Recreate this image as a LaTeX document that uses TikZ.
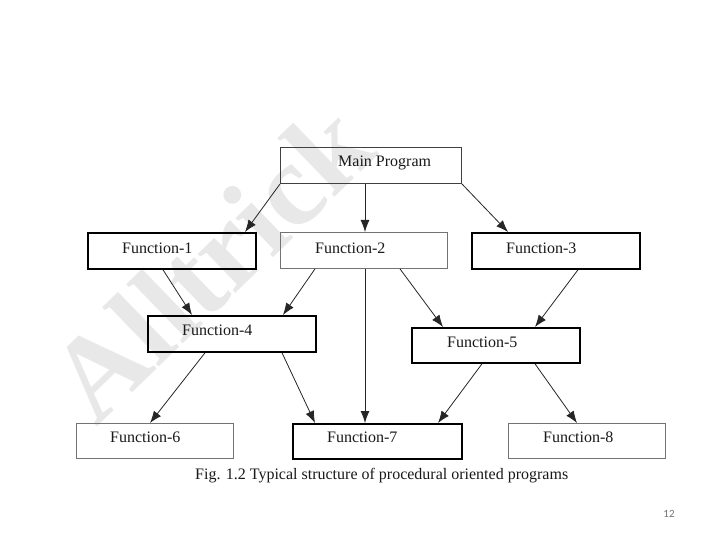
\documentclass[tikz,border=0pt]{standalone}
\usepackage{fontspec}
\setmainfont{Liberation Serif}
\newfontfamily\pgnumfont{Carlito}
\usetikzlibrary{arrows.meta,calc}
\tikzset{
  boxthick/.style={draw=black, line width=1.8pt, minimum width=168pt, minimum height=36pt, inner sep=0pt, anchor=north west},
  boxthin/.style={draw=black!55, line width=0.9pt, minimum width=157pt, minimum height=35pt, inner sep=0pt, anchor=north west},
  lbl/.style={anchor=base west, inner sep=0pt, text=black!90, font=\fontsize{16}{19}\selectfont},
  conn/.style={draw=black!85, line width=0.8pt, -{Latex[length=12pt,width=9pt]}, shorten <=0pt},
}
\begin{document}
\begin{tikzpicture}[x=1pt,y=-1pt]
\useasboundingbox (0,0) rectangle (720,540);
\fill[white] (0,0) rectangle (720,540);
% watermark
\node[text=black!9, rotate=44, inner sep=0pt, font=\fontsize{118}{118}\selectfont\bfseries] (wm) at (210,262) {Alltrick};
% boxes
\node[draw=black!75, line width=1pt, minimum width=181pt, minimum height=36pt, inner sep=0pt, anchor=north west] (main) at (280,147) {};
\node[boxthick] (f1) at (87,232) {};
\node[boxthin, minimum width=167pt, minimum height=36pt] (f2) at (280,232) {};
\node[boxthick] (f3) at (471,232) {};
\node[boxthick] (f4) at (147,315) {};
\node[boxthick, minimum height=35pt] (f5) at (411,327) {};
\node[boxthin] (f6) at (76,423) {};
\node[boxthick, minimum width=169pt, minimum height=35pt] (f7) at (292,423) {};
\node[boxthin] (f8) at (508,423) {};
% labels
\node[lbl] (tmain) at ($(main.north west)+(58,20)$) {Main Program};
\node[lbl] (t1) at ($(f1.north west)+(35,21)$) {Function-1};
\node[lbl] (t2) at ($(f2.north west)+(35,21)$) {Function-2};
\node[lbl] (t3) at ($(f3.north west)+(35,21)$) {Function-3};
\node[lbl] (t4) at ($(f4.north west)+(35,20)$) {Function-4};
\node[lbl] (t5) at ($(f5.north west)+(36,20)$) {Function-5};
\node[lbl] (t6) at ($(f6.north west)+(34,19)$) {Function-6};
\node[lbl] (t7) at ($(f7.north west)+(35,19)$) {Function-7};
\node[lbl] (t8) at ($(f8.north west)+(35,19)$) {Function-8};
% connectors
\draw[conn] (main.south west) -- ($(f1.north west)+(158,0)$);
\draw[conn] ($(main.south west)+(85,0)$) -- ($(f2.north west)+(85,0)$);
\draw[conn] (main.south east) -- ($(f3.north west)+(37,0)$);
\draw[conn] ($(f1.south west)+(76,0)$) -- ($(f4.north west)+(45,0)$);
\draw[conn] ($(f2.south west)+(35,0)$) -- ($(f4.north west)+(136,0)$);
\draw[conn] ($(f2.south west)+(85,0)$) -- ($(f7.north west)+(73,0)$);
\draw[conn] ($(f2.south west)+(120,0)$) -- ($(f5.north west)+(32,0)$);
\draw[conn] ($(f3.south west)+(107,0)$) -- ($(f5.north west)+(124,0)$);
\draw[conn] ($(f4.south west)+(58,0)$) -- ($(f6.north west)+(74,0)$);
\draw[conn] ($(f4.south west)+(135,0)$) -- ($(f7.north west)+(23,0)$);
\draw[conn] ($(f5.south west)+(71,0)$) -- ($(f7.north west)+(146,0)$);
\draw[conn] ($(f5.south west)+(124,0)$) -- ($(f8.north west)+(69,0)$);
% caption and page number
\node[lbl] (cap) at (195,479) {Fig. 1.2 Typical structure of procedural oriented programs};
\node[text=black!55, inner sep=0pt, font=\pgnumfont\fontsize{11}{13}\selectfont] (pg) at (669,514) {12};
\end{tikzpicture}
\end{document}
